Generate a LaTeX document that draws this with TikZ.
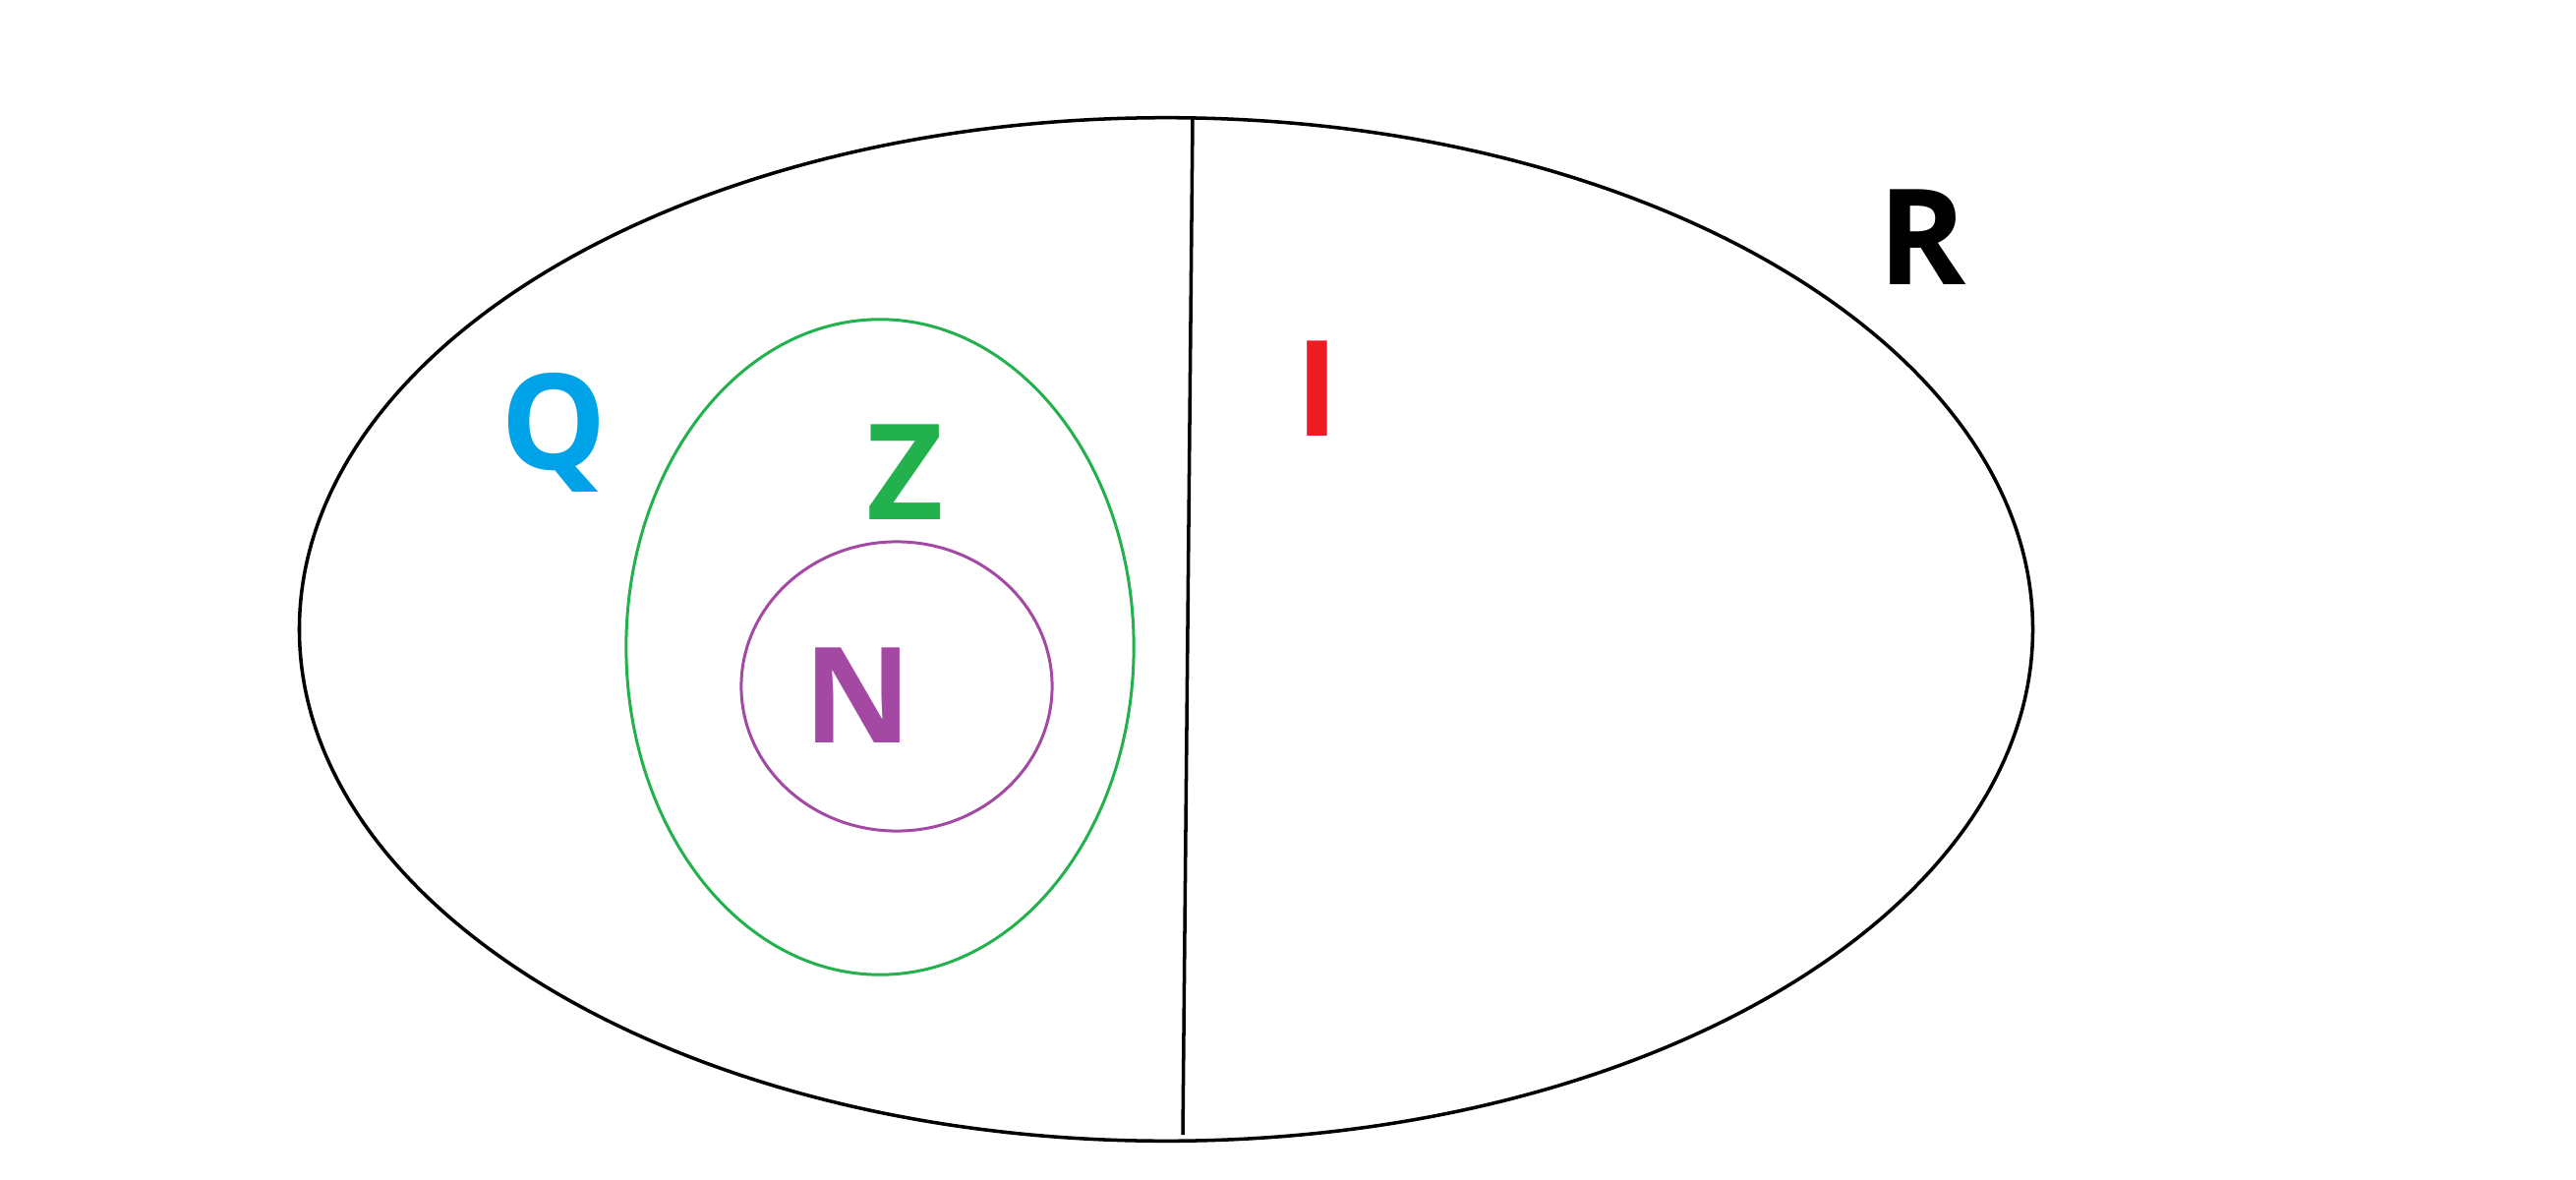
\documentclass[tikz,border=0pt]{standalone}
\usepackage{fontspec}
\setmainfont{Open Sans}
\usetikzlibrary{shapes.geometric, positioning}

\definecolor{qblue}{HTML}{00A2E8}
\definecolor{zgreen}{HTML}{22B14C}
\definecolor{npurple}{HTML}{A349A4}
\definecolor{ired}{HTML}{ED1C24}

\begin{document}
\begin{tikzpicture}[x=0.01cm, y=-0.01cm,
	set/.style={ellipse, draw, inner sep=0pt},
	lbl/.style={anchor=base, inner sep=0pt, font=\fontsize{38.5}{38.5}\selectfont\bfseries}]
	\useasboundingbox (0,0) rectangle (2620,1200);

	\node[set, line width=1pt, minimum width=17.62cm, minimum height=10.40cm] (setR) at (1186,640) {};
	\node[set, draw=zgreen, line width=0.85pt, minimum width=5.16cm, minimum height=6.66cm] (setZ) at (895,658) {};
	\node[set, draw=npurple, line width=0.85pt, minimum width=3.16cm, minimum height=2.94cm] (setN) at (912,698) {};

	\coordinate (cutT) at (1213,120);
	\coordinate (cutB) at (1203,1154);
	\draw[line width=1pt] (cutT) -- (cutB);

	\node[lbl, qblue] (lQ) at (563,477) {Q};
	\node[lbl, zgreen] (lZ) at (921,528) {Z};
	\node[lbl, npurple] (lN) at (873,755) {N};
	\node[lbl, ired] (lI) at (1340,443) {I};
	\node[lbl] (lR) at (1955,289) {R};
\end{tikzpicture}
\end{document}
